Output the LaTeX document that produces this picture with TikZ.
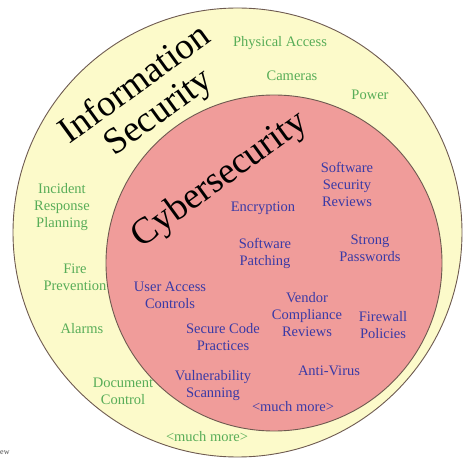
\documentclass[tikz,border=0pt]{standalone}
\usepackage{fontspec}
\setmainfont{Liberation Serif}
\definecolor{outerfill}{HTML}{FCFACA}
\definecolor{innerfill}{HTML}{F09C9A}
\definecolor{ringline}{HTML}{6E5A50}
\definecolor{greentxt}{HTML}{58AD58}
\definecolor{bluetxt}{HTML}{3A3AA6}
\tikzset{
  ring/.style={draw=ringline, line width=0.9pt},
  gitem/.style={text=greentxt, align=center, font=\fontsize{14.5}{17}\selectfont, inner sep=0pt},
  bitem/.style={text=bluetxt, align=center, font=\fontsize{14.5}{17}\selectfont, inner sep=0pt},
  title/.style={font=\fontsize{37}{40}\selectfont, inner sep=0pt, rotate=36}
}
\begin{document}
\begin{tikzpicture}[x=1pt,y=-1pt]
\useasboundingbox (0,0) rectangle (474,470);
\fill[white] (0,0) rectangle (474,470);
% circles
\path[ring, fill=outerfill] (237.5,232.5) circle[radius=224.5];
\path[ring, fill=innerfill] (274,263) circle[radius=168];
% titles
\node[title] (info) at (133.5,82.5) {Information};
\node[title] (sec) at (160,114) {Security};
\node[title] (cyber) at (220,180) {Cybersecurity};
% green items
\node[gitem] (phys) at (280,43) {Physical Access};
\node[gitem] (cam) at (292,76) {Cameras};
\node[gitem] (pow) at (370,95) {Power};
\node[gitem] (irp) at (62,207) {Incident\\Response\\Planning};
\node[gitem] (fire) at (75,277) {Fire\\Prevention};
\node[gitem] (alarm) at (82,329) {Alarms};
\node[gitem] (doc) at (123,391) {Document\\Control};
\node[gitem] (gmore) at (207,437) {<much more>};
% blue items
\node[bitem] (ssr) at (347,184) {Software\\Security\\Reviews};
\node[bitem] (enc) at (263,208) {Encryption};
\node[bitem] (pw) at (370,248) {Strong\\Passwords};
\node[bitem] (patch) at (265,253) {Software\\Patching};
\node[bitem] (uac) at (170,295) {User Access\\Controls};
\node[bitem] (vcr) at (307,315) {Vendor\\Compliance\\Reviews};
\node[bitem] (fw) at (383,325) {Firewall\\Policies};
\node[bitem] (scp) at (223,337) {Secure Code\\Practices};
\node[bitem] (av) at (329,371) {Anti-Virus};
\node[bitem] (vuln) at (213,386) {Vulnerability\\Scanning};
\node[bitem] (bmore) at (293,407) {<much more>};
% cropped caption fragment
\node[font=\fontsize{8}{9}\selectfont, text=black!70, inner sep=0pt, anchor=west] (ew) at (0,453) {ew};
\end{tikzpicture}
\end{document}
